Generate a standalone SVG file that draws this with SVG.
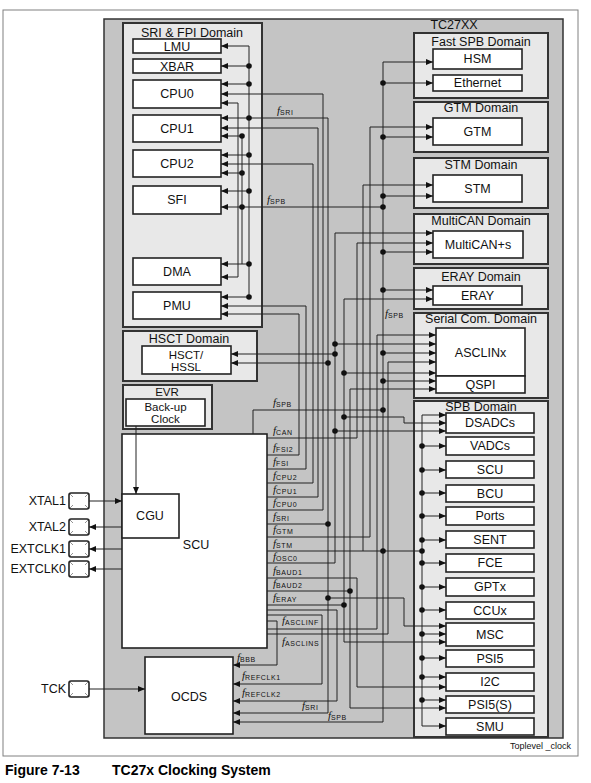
<svg xmlns="http://www.w3.org/2000/svg" width="591" height="783" viewBox="0 0 591 783">
<defs>
<marker id="ah" markerWidth="8" markerHeight="6" refX="7" refY="3" orient="auto" markerUnits="userSpaceOnUse"><path d="M0,0 L7,3 L0,6 z" fill="#111"/></marker>
<style>
.fr{fill:#fff;stroke:#808080;stroke-width:1}
.tc{fill:#c4c4c4;stroke:#333;stroke-width:1.5}
.dom{fill:#e8e8e8;stroke:#333;stroke-width:2}
.box{fill:#fff;stroke:#222;stroke-width:1.6}
.pin{fill:#fff;stroke:#222;stroke-width:1.6}
.pc{stroke:#777;stroke-width:0.8;fill:none}
.t{font-family:"Liberation Sans",Arial,sans-serif;font-size:12.5px;text-anchor:middle;fill:#111}
.t2{font-family:"Liberation Sans",Arial,sans-serif;font-size:11.5px;text-anchor:middle;fill:#111}
.l{font-family:"Liberation Sans",Arial,sans-serif;font-size:12.5px;text-anchor:end;fill:#111}
.w{fill:none;stroke:#222;stroke-width:1}
.a{marker-end:url(#ah)}
.fl{font-family:"Liberation Sans",Arial,sans-serif;font-size:7px;letter-spacing:0.6px;fill:#111}
.fi{font-family:"Liberation Serif","Times New Roman",serif;font-style:italic;font-size:11px;letter-spacing:0}
.cap{font-family:"Liberation Sans",Arial,sans-serif;font-size:14px;font-weight:bold;fill:#000}
.sm{font-family:"Liberation Sans",Arial,sans-serif;font-size:9px;text-anchor:end;fill:#111}
</style>
</defs>
<rect class="fr" x="3" y="10" width="575" height="746"/>
<g id="tc27xx"><rect class="tc" x="104" y="19" width="459" height="719"/><text class="t" x="454" y="29">TC27XX</text></g>

<g id="sri-domain"><rect class="dom" x="123" y="23" width="139" height="304"/><text class="t" x="192" y="37">SRI &amp; FPI Domain</text></g>
<g id="lmu"><rect class="box" x="133" y="39" width="88" height="14"/><text class="t" x="177" y="50.5">LMU</text></g>
<g id="xbar"><rect class="box" x="133" y="59" width="88" height="14"/><text class="t" x="177" y="70.5">XBAR</text></g>
<g id="cpu0"><rect class="box" x="133" y="80" width="88" height="28"/><text class="t" x="177" y="98">CPU0</text></g>
<g id="cpu1"><rect class="box" x="133" y="115" width="88" height="27"/><text class="t" x="177" y="133">CPU1</text></g>
<g id="cpu2"><rect class="box" x="133" y="150" width="88" height="27"/><text class="t" x="177" y="168">CPU2</text></g>
<g id="sfi"><rect class="box" x="133" y="186" width="88" height="28"/><text class="t" x="177" y="204">SFI</text></g>
<g id="dma"><rect class="box" x="133" y="258" width="88" height="27"/><text class="t" x="177" y="276">DMA</text></g>
<g id="pmu"><rect class="box" x="133" y="292" width="88" height="27"/><text class="t" x="177" y="310">PMU</text></g>

<g id="hsct-domain"><rect class="dom" x="123" y="331" width="134" height="50"/><text class="t" x="189" y="343">HSCT Domain</text></g>
<g id="hsct"><rect class="box" x="142" y="346" width="89" height="28"/><text class="t2" x="186" y="358.5">HSCT/</text><text class="t2" x="186" y="371">HSSL</text></g>

<g id="evr"><rect class="dom" x="123" y="385" width="89" height="44"/><text class="t2" x="167" y="396">EVR</text></g>
<g id="backup"><rect class="box" x="126" y="399" width="79" height="27"/><text class="t2" x="165.5" y="410.5">Back-up</text><text class="t2" x="165.5" y="423">Clock</text></g>

<g id="scu"><rect class="box" x="122" y="434" width="145" height="214"/><text class="t" x="196" y="549">SCU</text></g>
<g id="cgu"><rect class="box" x="122" y="494" width="57" height="44"/><text class="t" x="150" y="520">CGU</text></g>
<g id="ocds"><rect class="box" x="145" y="657" width="88" height="77"/><text class="t" x="189" y="701">OCDS</text></g>

<g id="fastspb-domain"><rect class="dom" x="414" y="33" width="134" height="65"/><text class="t" x="481" y="46">Fast SPB Domain</text></g>
<g id="hsm"><rect class="box" x="433" y="49" width="89" height="20"/><text class="t" x="477.5" y="63">HSM</text></g>
<g id="ethernet"><rect class="box" x="433" y="75" width="89" height="16"/><text class="t" x="477.5" y="87">Ethernet</text></g>
<g id="gtm-domain"><rect class="dom" x="414" y="102" width="134" height="50"/><text class="t" x="481" y="112">GTM Domain</text></g>
<g id="gtm"><rect class="box" x="433" y="118" width="89" height="27"/><text class="t" x="477.5" y="136">GTM</text></g>
<g id="stm-domain"><rect class="dom" x="414" y="158" width="134" height="50"/><text class="t" x="481" y="169">STM Domain</text></g>
<g id="stm"><rect class="box" x="433" y="175" width="89" height="27"/><text class="t" x="477.5" y="193">STM</text></g>
<g id="multican-domain"><rect class="dom" x="414" y="214" width="134" height="50"/><text class="t" x="481" y="225">MultiCAN Domain</text></g>
<g id="multican"><rect class="box" x="433" y="231" width="90" height="27"/><text class="t" x="478" y="249">MultiCAN+s</text></g>
<g id="eray-domain"><rect class="dom" x="414" y="268" width="134" height="41"/><text class="t" x="481" y="281">ERAY Domain</text></g>
<g id="eray"><rect class="box" x="433" y="286" width="89" height="19"/><text class="t" x="477.5" y="300">ERAY</text></g>
<g id="serial-domain"><rect class="dom" x="414" y="313" width="134" height="85"/><text class="t" x="481" y="323">Serial Com. Domain</text></g>
<g id="asclinx"><rect class="box" x="436" y="328" width="89" height="48"/><text class="t" x="480.5" y="357">ASCLINx</text></g>
<g id="qspi"><rect class="box" x="436" y="376" width="89" height="17"/><text class="t" x="480.5" y="389">QSPI</text></g>
<g id="spb-domain"><rect class="dom" x="414" y="401" width="134" height="336"/><text class="t" x="481" y="411">SPB Domain</text></g>
<g id="dsadcs"><rect class="box" x="446" y="413" width="88" height="20"/><text class="t" x="490" y="427">DSADCs</text></g>
<g id="vadcs"><rect class="box" x="446" y="437" width="88" height="18"/><text class="t" x="490" y="450">VADCs</text></g>
<g id="scu2"><rect class="box" x="446" y="461" width="88" height="17"/><text class="t" x="490" y="474">SCU</text></g>
<g id="bcu"><rect class="box" x="446" y="485" width="88" height="17"/><text class="t" x="490" y="498">BCU</text></g>
<g id="ports"><rect class="box" x="446" y="507" width="88" height="18"/><text class="t" x="490" y="520">Ports</text></g>
<g id="sent"><rect class="box" x="446" y="531" width="88" height="17"/><text class="t" x="490" y="544">SENT</text></g>
<g id="fce"><rect class="box" x="446" y="554" width="88" height="18"/><text class="t" x="490" y="567">FCE</text></g>
<g id="gptx"><rect class="box" x="446" y="578" width="88" height="18"/><text class="t" x="490" y="591">GPTx</text></g>
<g id="ccux"><rect class="box" x="446" y="602" width="88" height="17"/><text class="t" x="490" y="615">CCUx</text></g>
<g id="msc"><rect class="box" x="446" y="623" width="88" height="23"/><text class="t" x="490" y="639">MSC</text></g>
<g id="psi5"><rect class="box" x="446" y="650" width="88" height="17"/><text class="t" x="490" y="663">PSI5</text></g>
<g id="i2c"><rect class="box" x="446" y="673" width="88" height="18"/><text class="t" x="490" y="686">I2C</text></g>
<g id="psi5s"><rect class="box" x="446" y="696" width="88" height="17"/><text class="t" x="490" y="709">PSI5(S)</text></g>
<g id="smu"><rect class="box" x="446" y="718" width="88" height="17"/><text class="t" x="490" y="731">SMU</text></g>

<g id="pin-xtal1"><rect class="pin" x="69" y="493" width="20" height="16" rx="2"/><path class="pc" d="M70,494 l3,3 M88,494 l-3,3 M70,508 l3,-3 M88,508 l-3,-3"/><text class="l" x="66" y="505">XTAL1</text></g>
<g id="pin-xtal2"><rect class="pin" x="69" y="519" width="20" height="16" rx="2"/><path class="pc" d="M70,520 l3,3 M88,520 l-3,3 M70,534 l3,-3 M88,534 l-3,-3"/><text class="l" x="66" y="531">XTAL2</text></g>
<g id="pin-extclk1"><rect class="pin" x="69" y="541" width="20" height="16" rx="2"/><path class="pc" d="M70,542 l3,3 M88,542 l-3,3 M70,556 l3,-3 M88,556 l-3,-3"/><text class="l" x="66" y="553">EXTCLK1</text></g>
<g id="pin-extclk0"><rect class="pin" x="69" y="561" width="20" height="16" rx="2"/><path class="pc" d="M70,562 l3,3 M88,562 l-3,3 M70,576 l3,-3 M88,576 l-3,-3"/><text class="l" x="66" y="573">EXTCLK0</text></g>
<g id="pin-tck"><rect class="pin" x="69" y="681" width="20" height="16" rx="2"/><path class="pc" d="M70,682 l3,3 M88,682 l-3,3 M70,696 l3,-3 M88,696 l-3,-3"/><text class="l" x="66" y="693">TCK</text></g>

<g id="connectors">
<path class="w" d="M249,46 V297"/>
<path class="w a" d="M249,46 H221"/>
<path class="w a" d="M249,66 H221"/>
<path class="w a" d="M249,84 H221"/>
<path class="w a" d="M249,155 H221"/>
<path class="w a" d="M249,191 H221"/>
<path class="w a" d="M249,264 H221"/>
<path class="w a" d="M249,297 H221"/>
<path class="w a" d="M328,118 H221"/>
<path class="w a" d="M328,118 V713 H233"/>
<path class="w" d="M267,524 H328"/>
<path class="w" d="M242,136 V264"/>
<path class="w a" d="M242,136 H221"/>
<path class="w a" d="M242,173 H221"/>
<path class="w a" d="M383,207 H221"/>
<path class="w a" d="M238,277 V103 H221"/>
<path class="w a" d="M238,277 H221"/>
<path class="w a" d="M267,510 H323 V94 H221"/>
<path class="w a" d="M267,497 H318 V128 H221"/>
<path class="w a" d="M267,483 H313 V164 H221"/>
<path class="w a" d="M267,469 H306 V306 H221"/>
<path class="w a" d="M267,455 H299 V314 H221"/>
<path class="w a" d="M335,354 H231"/>
<path class="w a" d="M328,363 H231"/>
<path class="w a" d="M267,563 H335 V233 H433"/>
<path class="w a" d="M335,344 H436"/>
<path class="w a" d="M335,431 H446"/>
<path class="w a" d="M267,438 H357 V243 H433"/>
<path class="w a" d="M267,537 H370 V127 H433"/>
<path class="w a" d="M267,551 H363 V185 H433"/>
<path class="w" d="M363,551 H422"/>
<path class="w a" d="M383,62 V722 H233"/>
<path class="w a" d="M383,62 H433"/>
<path class="w a" d="M383,83 H433"/>
<path class="w a" d="M383,137 H433"/>
<path class="w a" d="M383,196 H433"/>
<path class="w a" d="M383,252 H433"/>
<path class="w a" d="M383,290 H433"/>
<path class="w a" d="M383,353 H436"/>
<path class="w a" d="M383,381 H436"/>
<path class="w" d="M253,434 V410 H383"/>
<path class="w a" d="M422,415 V726 H446"/>
<path class="w a" d="M422,415 H446"/>
<path class="w a" d="M422,446 H446"/>
<path class="w a" d="M422,470 H446"/>
<path class="w a" d="M422,493 H446"/>
<path class="w a" d="M422,516 H446"/>
<path class="w a" d="M422,540 H446"/>
<path class="w a" d="M422,563 H446"/>
<path class="w a" d="M422,587 H446"/>
<path class="w a" d="M422,610 H446"/>
<path class="w a" d="M422,634 H446"/>
<path class="w a" d="M422,658 H446"/>
<path class="w a" d="M422,677 H446"/>
<path class="w a" d="M422,700 H446"/>
<path class="w a" d="M344,417 H404 V423 H446"/>
<path class="w" d="M267,605 H344"/>
<path class="w a" d="M344,299 V642 H446"/>
<path class="w a" d="M344,299 H433"/>
<path class="w a" d="M344,373 H436"/>
<path class="w a" d="M328,598 H404 V626 H446"/>
<path class="w a" d="M267,578 H357 V687 H446"/>
<path class="w" d="M267,591 H350"/>
<path class="w a" d="M350,389 V708 H446"/>
<path class="w a" d="M350,389 H436"/>
<path class="w a" d="M267,629 H377 V335 H436"/>
<path class="w a" d="M267,634 H388 V362 H436"/>
<path class="w a" d="M267,621 H277 V665 H233"/>
<path class="w a" d="M267,615 H322 V684 H233"/>
<path class="w a" d="M267,610 H337 V701 H233"/>
<path class="w a" d="M89,501 H122"/>
<path class="w a" d="M122,527 H89"/>
<path class="w a" d="M122,549 H89"/>
<path class="w a" d="M122,569 H89"/>
<path class="w a" d="M89,689 H145"/>
<path class="w a" d="M136,426 V494"/>
<g fill="#111">
<circle cx="249" cy="66" r="2.8"/><circle cx="249" cy="84" r="2.8"/><circle cx="249" cy="118" r="2.8"/><circle cx="249" cy="155" r="2.8"/><circle cx="249" cy="191" r="2.8"/><circle cx="249" cy="264" r="2.8"/><circle cx="249" cy="297" r="2.8"/>
<circle cx="242" cy="136" r="2.8"/><circle cx="242" cy="173" r="2.8"/><circle cx="242" cy="207" r="2.8"/>
<circle cx="328" cy="524" r="2.8"/><circle cx="328" cy="363" r="2.8"/><circle cx="328" cy="598" r="2.8"/>
<circle cx="335" cy="354" r="2.8"/><circle cx="335" cy="344" r="2.8"/><circle cx="335" cy="431" r="2.8"/>
<circle cx="383" cy="83" r="2.8"/><circle cx="383" cy="137" r="2.8"/><circle cx="383" cy="196" r="2.8"/><circle cx="383" cy="207" r="2.8"/><circle cx="383" cy="252" r="2.8"/><circle cx="383" cy="290" r="2.8"/><circle cx="383" cy="353" r="2.8"/><circle cx="383" cy="381" r="2.8"/><circle cx="383" cy="410" r="2.8"/><circle cx="383" cy="551" r="2.8"/>
<circle cx="344" cy="605" r="2.8"/><circle cx="344" cy="417" r="2.8"/><circle cx="344" cy="373" r="2.8"/>
<circle cx="350" cy="591" r="2.8"/>
<circle cx="422" cy="446" r="2.8"/><circle cx="422" cy="470" r="2.8"/><circle cx="422" cy="493" r="2.8"/><circle cx="422" cy="516" r="2.8"/><circle cx="422" cy="540" r="2.8"/><circle cx="422" cy="551" r="2.8"/><circle cx="422" cy="563" r="2.8"/><circle cx="422" cy="587" r="2.8"/><circle cx="422" cy="610" r="2.8"/><circle cx="422" cy="634" r="2.8"/><circle cx="422" cy="658" r="2.8"/><circle cx="422" cy="677" r="2.8"/><circle cx="422" cy="700" r="2.8"/>
</g>
</g>

<g id="freq-labels">
<text class="fl" x="277" y="114"><tspan class="fi">f</tspan><tspan dy="1">SRI</tspan></text>
<text class="fl" x="267" y="203"><tspan class="fi">f</tspan><tspan dy="1">SPB</tspan></text>
<text class="fl" x="385" y="317"><tspan class="fi">f</tspan><tspan dy="1">SPB</tspan></text>
<text class="fl" x="273" y="406"><tspan class="fi">f</tspan><tspan dy="1">SPB</tspan></text>
<text class="fl" x="273" y="434"><tspan class="fi">f</tspan><tspan dy="1">CAN</tspan></text>
<text class="fl" x="273" y="451"><tspan class="fi">f</tspan><tspan dy="1">FSI2</tspan></text>
<text class="fl" x="273" y="465"><tspan class="fi">f</tspan><tspan dy="1">FSI</tspan></text>
<text class="fl" x="273" y="479"><tspan class="fi">f</tspan><tspan dy="1">CPU2</tspan></text>
<text class="fl" x="273" y="493"><tspan class="fi">f</tspan><tspan dy="1">CPU1</tspan></text>
<text class="fl" x="273" y="506"><tspan class="fi">f</tspan><tspan dy="1">CPU0</tspan></text>
<text class="fl" x="273" y="520"><tspan class="fi">f</tspan><tspan dy="1">SRI</tspan></text>
<text class="fl" x="273" y="533"><tspan class="fi">f</tspan><tspan dy="1">GTM</tspan></text>
<text class="fl" x="273" y="547"><tspan class="fi">f</tspan><tspan dy="1">STM</tspan></text>
<text class="fl" x="273" y="560"><tspan class="fi">f</tspan><tspan dy="1">OSC0</tspan></text>
<text class="fl" x="273" y="574"><tspan class="fi">f</tspan><tspan dy="1">BAUD1</tspan></text>
<text class="fl" x="273" y="587"><tspan class="fi">f</tspan><tspan dy="1">BAUD2</tspan></text>
<text class="fl" x="273" y="601"><tspan class="fi">f</tspan><tspan dy="1">ERAY</tspan></text>
<text class="fl" x="282" y="624"><tspan class="fi">f</tspan><tspan dy="1">ASCLINF</tspan></text>
<text class="fl" x="282" y="645"><tspan class="fi">f</tspan><tspan dy="1">ASCLINS</tspan></text>
<text class="fl" x="237" y="661"><tspan class="fi">f</tspan><tspan dy="1">BBB</tspan></text>
<text class="fl" x="242" y="679"><tspan class="fi">f</tspan><tspan dy="1">REFCLK1</tspan></text>
<text class="fl" x="242" y="696"><tspan class="fi">f</tspan><tspan dy="1">REFCLK2</tspan></text>
<text class="fl" x="302" y="709"><tspan class="fi">f</tspan><tspan dy="1">SRI</tspan></text>
<text class="fl" x="328" y="719"><tspan class="fi">f</tspan><tspan dy="1">SPB</tspan></text>
</g>

<text class="sm" x="571" y="749">Toplevel _clock</text>
<text class="cap" x="5" y="775">Figure 7-13<tspan x="112">TC27x Clocking System</tspan></text>
</svg>
